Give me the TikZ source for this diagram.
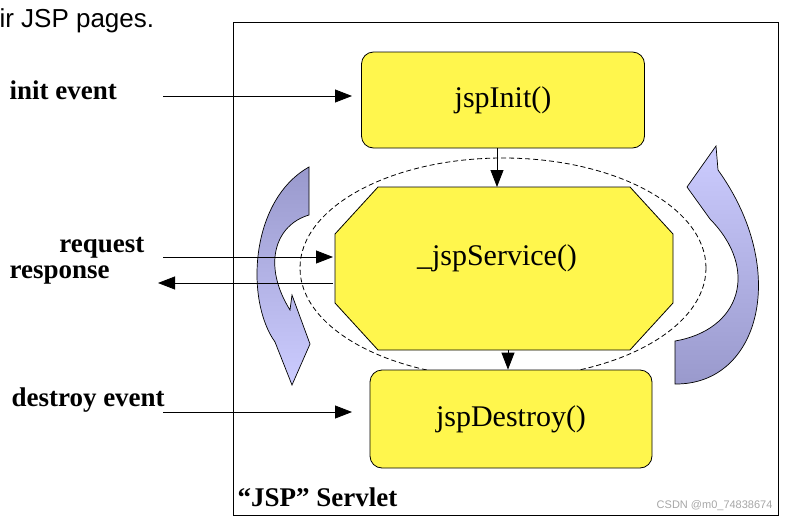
\documentclass[tikz,border=0pt]{standalone}
\usepackage{fontspec}
\setmainfont{Liberation Serif}
\newfontfamily\sansf{Liberation Sans}
\usetikzlibrary{arrows.meta,shapes.geometric}
\definecolor{dk}{HTML}{9999CC}
\definecolor{lt}{HTML}{CCCCFF}
\begin{document}
\begin{tikzpicture}[x=1pt,y=-1pt,
  lab/.style={font=\fontsize{27}{27}\selectfont\bfseries},
  box/.style={draw,fill=yellow!70!white,rounded corners=12pt,line width=0.8pt},
  arr/.style={-{Triangle[length=17pt,width=13pt]},line width=0.8pt},
  bt/.style={font=\fontsize{30}{30}\selectfont}]
\useasboundingbox (0,0) rectangle (788,520);
\draw[line width=0.8pt] (233,22) rectangle (778,515);
\node[anchor=west,font=\sansf\fontsize{26}{26}\selectfont] (top) at (-4,21) {ir JSP pages.};
% ellipse
\draw[dash pattern=on 5pt off 3pt,line width=0.8pt] (503,268) ellipse [x radius=203,y radius=110];
% curved arrows
\draw[line width=0.7pt,top color=dk,bottom color=lt]
 (309,167) -- (309,215) .. controls (275,225) and (262,265) .. (290,310) -- (292,295) -- (310,344) -- (292,385) -- (275,342) .. controls (245,300) and (250,200) .. (309,167) -- cycle;
\draw[line width=0.7pt,top color=lt,bottom color=dk]
 (716,146) -- (687,187) -- (710,219) .. controls (760,270) and (740,330) .. (675,341) -- (675,384) .. controls (760,385) and (790,270) .. (718,170) -- cycle;
% boxes
\node[box,minimum width=283pt,minimum height=96pt,bt] (init) at (503,100) {jspInit()};
\node[box,minimum width=282pt,minimum height=98pt,bt] (destroy) at (511,419) {jspDestroy()};
\draw[line width=0.8pt,fill=yellow!70!white] (378,187) -- (630,187) -- (673,234) -- (673,303) -- (630,350) -- (378,350) -- (335,303) -- (335,234) -- cycle;
\node[bt] (svc) at (497,258) {\_jspService()};
\coordinate (svctop) at (497,187);
\coordinate (svcbot) at (508,350);
\draw[arr] (init.south -| svctop) -- (svctop);
\draw[arr] (svcbot) -- (svcbot |- destroy.north);
% labels
\node[lab,anchor=west] (ie) at (6,90) {init event};
\node[lab,anchor=east] (rq) at (148,248) {request};
\node[lab,anchor=west] (rs) at (6,275) {response};
\node[lab,anchor=west] (de) at (8,400) {destroy event};
\coordinate (a1) at (163,96); \coordinate (a2) at (352,96);
\coordinate (b1) at (163,257); \coordinate (b2) at (333,257);
\coordinate (c1) at (333,283); \coordinate (c2) at (158,283);
\coordinate (d1) at (163,412); \coordinate (d2) at (352,412);
\draw[arr] (a1) -- (a2);
\draw[arr] (b1) -- (b2);
\draw[arr] (c1) -- (c2);
\draw[arr] (d1) -- (d2);
\node[lab,anchor=west] (sv) at (234,497) {“JSP” Servlet};
\node[anchor=east,text=black!35,font=\sansf\fontsize{11}{11}\selectfont] (wm) at (776,506) {CSDN @m0\_74838674};
\end{tikzpicture}
\end{document}
